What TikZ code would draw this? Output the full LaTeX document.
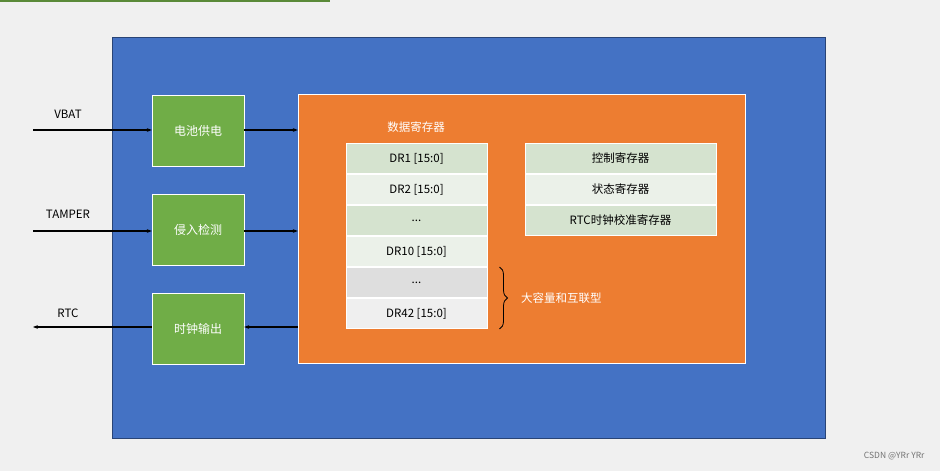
\documentclass[tikz,border=0pt]{standalone}
\usepackage{fontspec}
\setmainfont{Noto Sans CJK SC}
\usetikzlibrary{positioning,arrows.meta,decorations.pathreplacing}
\definecolor{bgblue}{HTML}{4472C4}
\definecolor{bgorange}{HTML}{ED7D31}
\definecolor{boxgreen}{HTML}{70AD47}
\definecolor{cellA}{HTML}{D5E3CF}
\definecolor{cellB}{HTML}{EBF1E9}
\definecolor{cellC}{HTML}{DEDEDE}
\definecolor{cellD}{HTML}{EFEFEF}
\tikzset{
  unit/.style={draw=white, fill=boxgreen, text=white, minimum width=92pt, minimum height=71pt, font=\fontsize{12}{14}\selectfont, inner sep=0pt},
  cell/.style={draw=white, line width=1pt, minimum width=141pt, minimum height=30pt, font=\fontsize{11.5}{14}\selectfont, inner sep=0pt},
  wcell/.style={cell, minimum width=191pt},
  sig/.style={-{Stealth[length=5pt]}, line width=1.2pt},
  lbl/.style={font=\fontsize{11.5}{14}\selectfont}
}
\begin{document}
\begin{tikzpicture}[x=1pt,y=-1pt]
  \useasboundingbox[fill=black!6] (0,0) rectangle (940,471);
  \fill[boxgreen!80!black] (0,0) rectangle (330,2);
  \draw[bgblue!60!black, fill=bgblue] (112,37) rectangle (825,438);
  \node[draw=white, fill=bgorange, minimum width=447pt, minimum height=269pt, inner sep=0pt] (core) at (521.5,228.5) {};

  % units
  \node[unit] (bat) at (198,130.5) {电池供电};
  \node[unit] (tamp) at (198,230) {侵入检测};
  \node[unit] (clk) at (198,328.5) {时钟输出};

  % data registers
  \node[text=white, lbl] (title) at (416,127) {数据寄存器};
  \node[cell, fill=cellA] (dr1) at (416.5,158.5) {DR1 [15:0]};
  \node[cell, fill=cellB, below=0pt of dr1] (dr2) {DR2 [15:0]};
  \node[cell, fill=cellA, below=0pt of dr2] (dots1) {...};
  \node[cell, fill=cellB, below=0pt of dots1] (dr10) {DR10 [15:0]};
  \node[cell, fill=cellC, below=0pt of dr10] (dots2) {...};
  \node[cell, fill=cellD, below=0pt of dots2] (dr42) {DR42 [15:0]};

  \node[wcell, fill=cellA] (ctrl) at (620.5,158.5) {控制寄存器};
  \node[wcell, fill=cellB, below=0pt of ctrl] (stat) {状态寄存器};
  \node[wcell, fill=cellA, below=0pt of stat] (cal) {RTC时钟校准寄存器};

  \draw[decorate, decoration={brace, amplitude=8pt}, line width=0.8pt]
    ([xshift=12pt]dots2.north east) -- ([xshift=12pt]dr42.south east) coordinate[midway] (br);
  \node[text=white, lbl, anchor=west] (big) at ([xshift=18pt]br) {大容量和互联型};

  % signals
  \coordinate (vin) at (33,130);
  \coordinate (tin) at (33,231);
  \coordinate (rout) at (33,327);
  \node[lbl] (vbat) at (68,114) {VBAT};
  \node[lbl] (tamper) at (68,214) {TAMPER};
  \node[lbl] (rtc) at (68,313) {RTC};
  \draw[sig] (vin) -- (vin -| bat.west);
  \draw[sig] (tin) -- (tin -| tamp.west);
  \draw[sig] (clk.west |- rout) -- (rout);
  \draw[sig] (bat.east |- vin) -- (vin -| core.west);
  \draw[sig] (tamp.east |- tin) -- (tin -| core.west);
  \draw[sig] (rout -| core.west) -- (rout -| clk.east);
  \node[text=black!55, font=\fontsize{8.5}{10}\selectfont, anchor=east] (mark) at (928,456) {CSDN @YRr YRr};
\end{tikzpicture}
\end{document}
